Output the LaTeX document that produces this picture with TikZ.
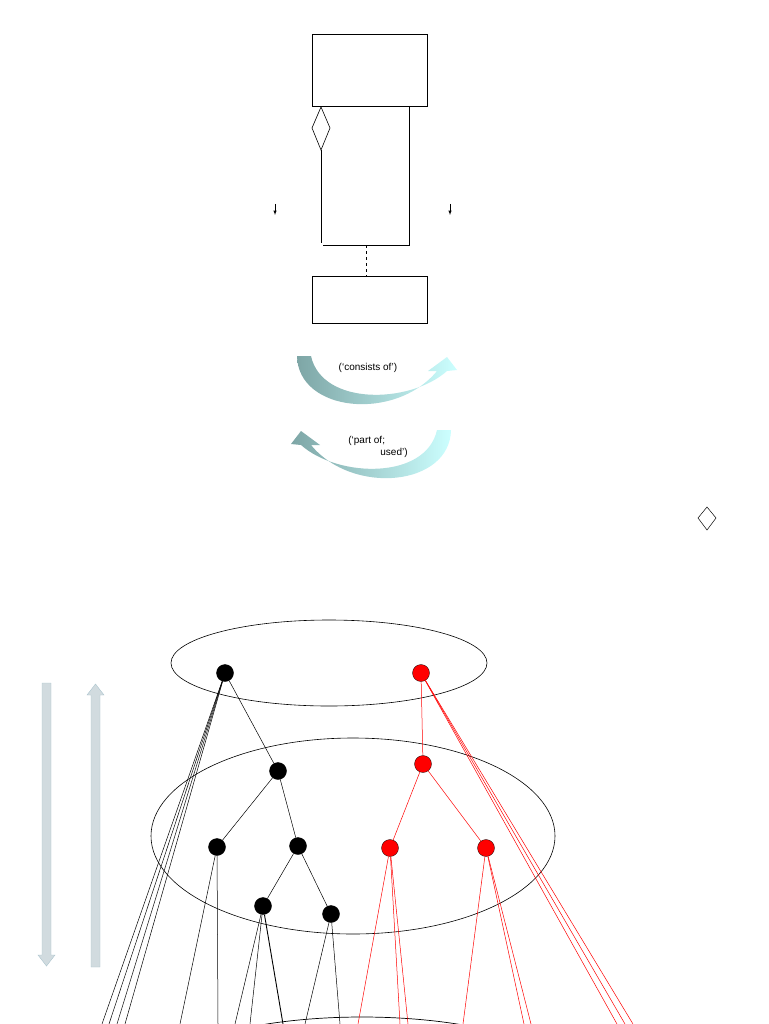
\documentclass[tikz,border=0pt]{standalone}
\usepackage{fontspec}
\setmainfont{Liberation Sans}
\begin{document}
\begin{tikzpicture}[x=1pt,y=-1pt,
  box/.style={draw,line width=0.6pt},
  bdot/.style={circle,fill=black,draw=black,minimum size=17pt,inner sep=0pt},
  rdot/.style={circle,fill=red,draw=black,line width=0.3pt,minimum size=17pt,inner sep=0pt},
  bl/.style={draw=black,line width=0.5pt},
  rl/.style={draw=red,line width=0.5pt},
  band/.style={left color=teal!45!gray!70,right color=cyan!20!white,draw=none},
  varrow/.style={fill=cyan!20!gray!35,draw=cyan!30!gray!60,line width=0.4pt}]
\useasboundingbox (0,0) rectangle (768,1024);
\clip (0,0) rectangle (768,1024);
% UML part
\draw[box] (312,34) rectangle (427,106);
\draw[box] (312,276) rectangle (427,323);
\draw[line width=0.6pt] (409,106) -- (409,245) -- (323,245);
\draw[line width=0.6pt] (321,150) -- (321,243);
\draw[line width=0.6pt,fill=white] (321,107) -- (330,128) -- (321,150) -- (312,128) -- cycle;
\draw[dashed,line width=0.5pt] (366,245) -- (366,276);
\draw[-latex,line width=0.5pt] (275,204) -- (275,215);
\draw[-latex,line width=0.5pt] (450,204) -- (450,215);
\draw[line width=0.5pt] (707,507) -- (716,518) -- (707,530) -- (698,518) -- cycle;
% curved arrows
\def\bandpath{(297,356) .. controls (298,412) and (395,422) .. (437,371) -- (428,371) -- (447,357) -- (457,370) -- (447,371) .. controls (410,404) and (322,406) .. (311,356) -- cycle}
\shade[band] \bandpath;
\begin{scope}[xshift=748pt,xscale=-1,yshift=-74pt]
\shade[band] \bandpath;
\end{scope}
\node[font=\fontsize{10}{12}\selectfont] (t1) at (368,368) {(‘consists of’)};
\node[font=\fontsize{10}{12}\selectfont,align=left] (t2) at (378,447) {(‘part of;\\\hspace*{3.2em}used’)};
% left arrows
\fill[varrow] (42,683) -- (51,683) -- (51,955) -- (55,955) -- (46.5,966) -- (38,955) -- (42,955) -- cycle;
\fill[varrow] (91,967) -- (100,967) -- (100,695) -- (104,695) -- (95.5,684) -- (87,695) -- (91,695) -- cycle;
% ellipses
\draw[line width=0.6pt] (329,663) ellipse (158 and 43);
\draw[line width=0.6pt] (353,836) ellipse (202 and 98);
\draw[line width=0.7pt] (362,1085) ellipse (215 and 68);
% nodes
\node[bdot] (A) at (225,673) {};
\node[bdot] (B) at (278,771) {};
\node[bdot] (C) at (217,847) {};
\node[bdot] (D) at (298,846) {};
\node[bdot] (E) at (263,906) {};
\node[bdot] (F) at (331,914) {};
\node[rdot] (G) at (421,673) {};
\node[rdot] (H) at (423,764) {};
\node[rdot] (I) at (390,848) {};
\node[rdot] (J) at (486,848) {};
\draw[bl] (A) -- (B); \draw[bl] (B) -- (C); \draw[bl] (B) -- (D);
\draw[bl] (D) -- (E); \draw[bl] (D) -- (F);
\draw[rl] (G) -- (H); \draw[rl] (H) -- (I); \draw[rl] (H) -- (J);
\foreach \x [count=\i] in {102,109,117,125} {\coordinate (a\i) at (\x,1024); \draw[bl] (A) -- (a\i);}
\foreach \x [count=\i] in {180,218} {\coordinate (c\i) at (\x,1024); \draw[bl] (C) -- (c\i);}
\foreach \x [count=\i] in {235,250} {\coordinate (e\i) at (\x,1024); \draw[bl] (E) -- (e\i);}
\coordinate (e3) at (283,1024); \draw[black,line width=0.9pt] (E) -- (e3);
\foreach \x [count=\i] in {305,340} {\coordinate (f\i) at (\x,1024); \draw[bl] (F) -- (f\i);}
\foreach \x [count=\i] in {358,400,408} {\coordinate (i\i) at (\x,1024); \draw[rl] (I) -- (i\i);}
\foreach \x [count=\i] in {463,524,531} {\coordinate (j\i) at (\x,1024); \draw[rl] (J) -- (j\i);}
\foreach \x [count=\i] in {617,625,633} {\coordinate (g\i) at (\x,1024); \draw[rl] (G) -- (g\i);}
\end{tikzpicture}
\end{document}
